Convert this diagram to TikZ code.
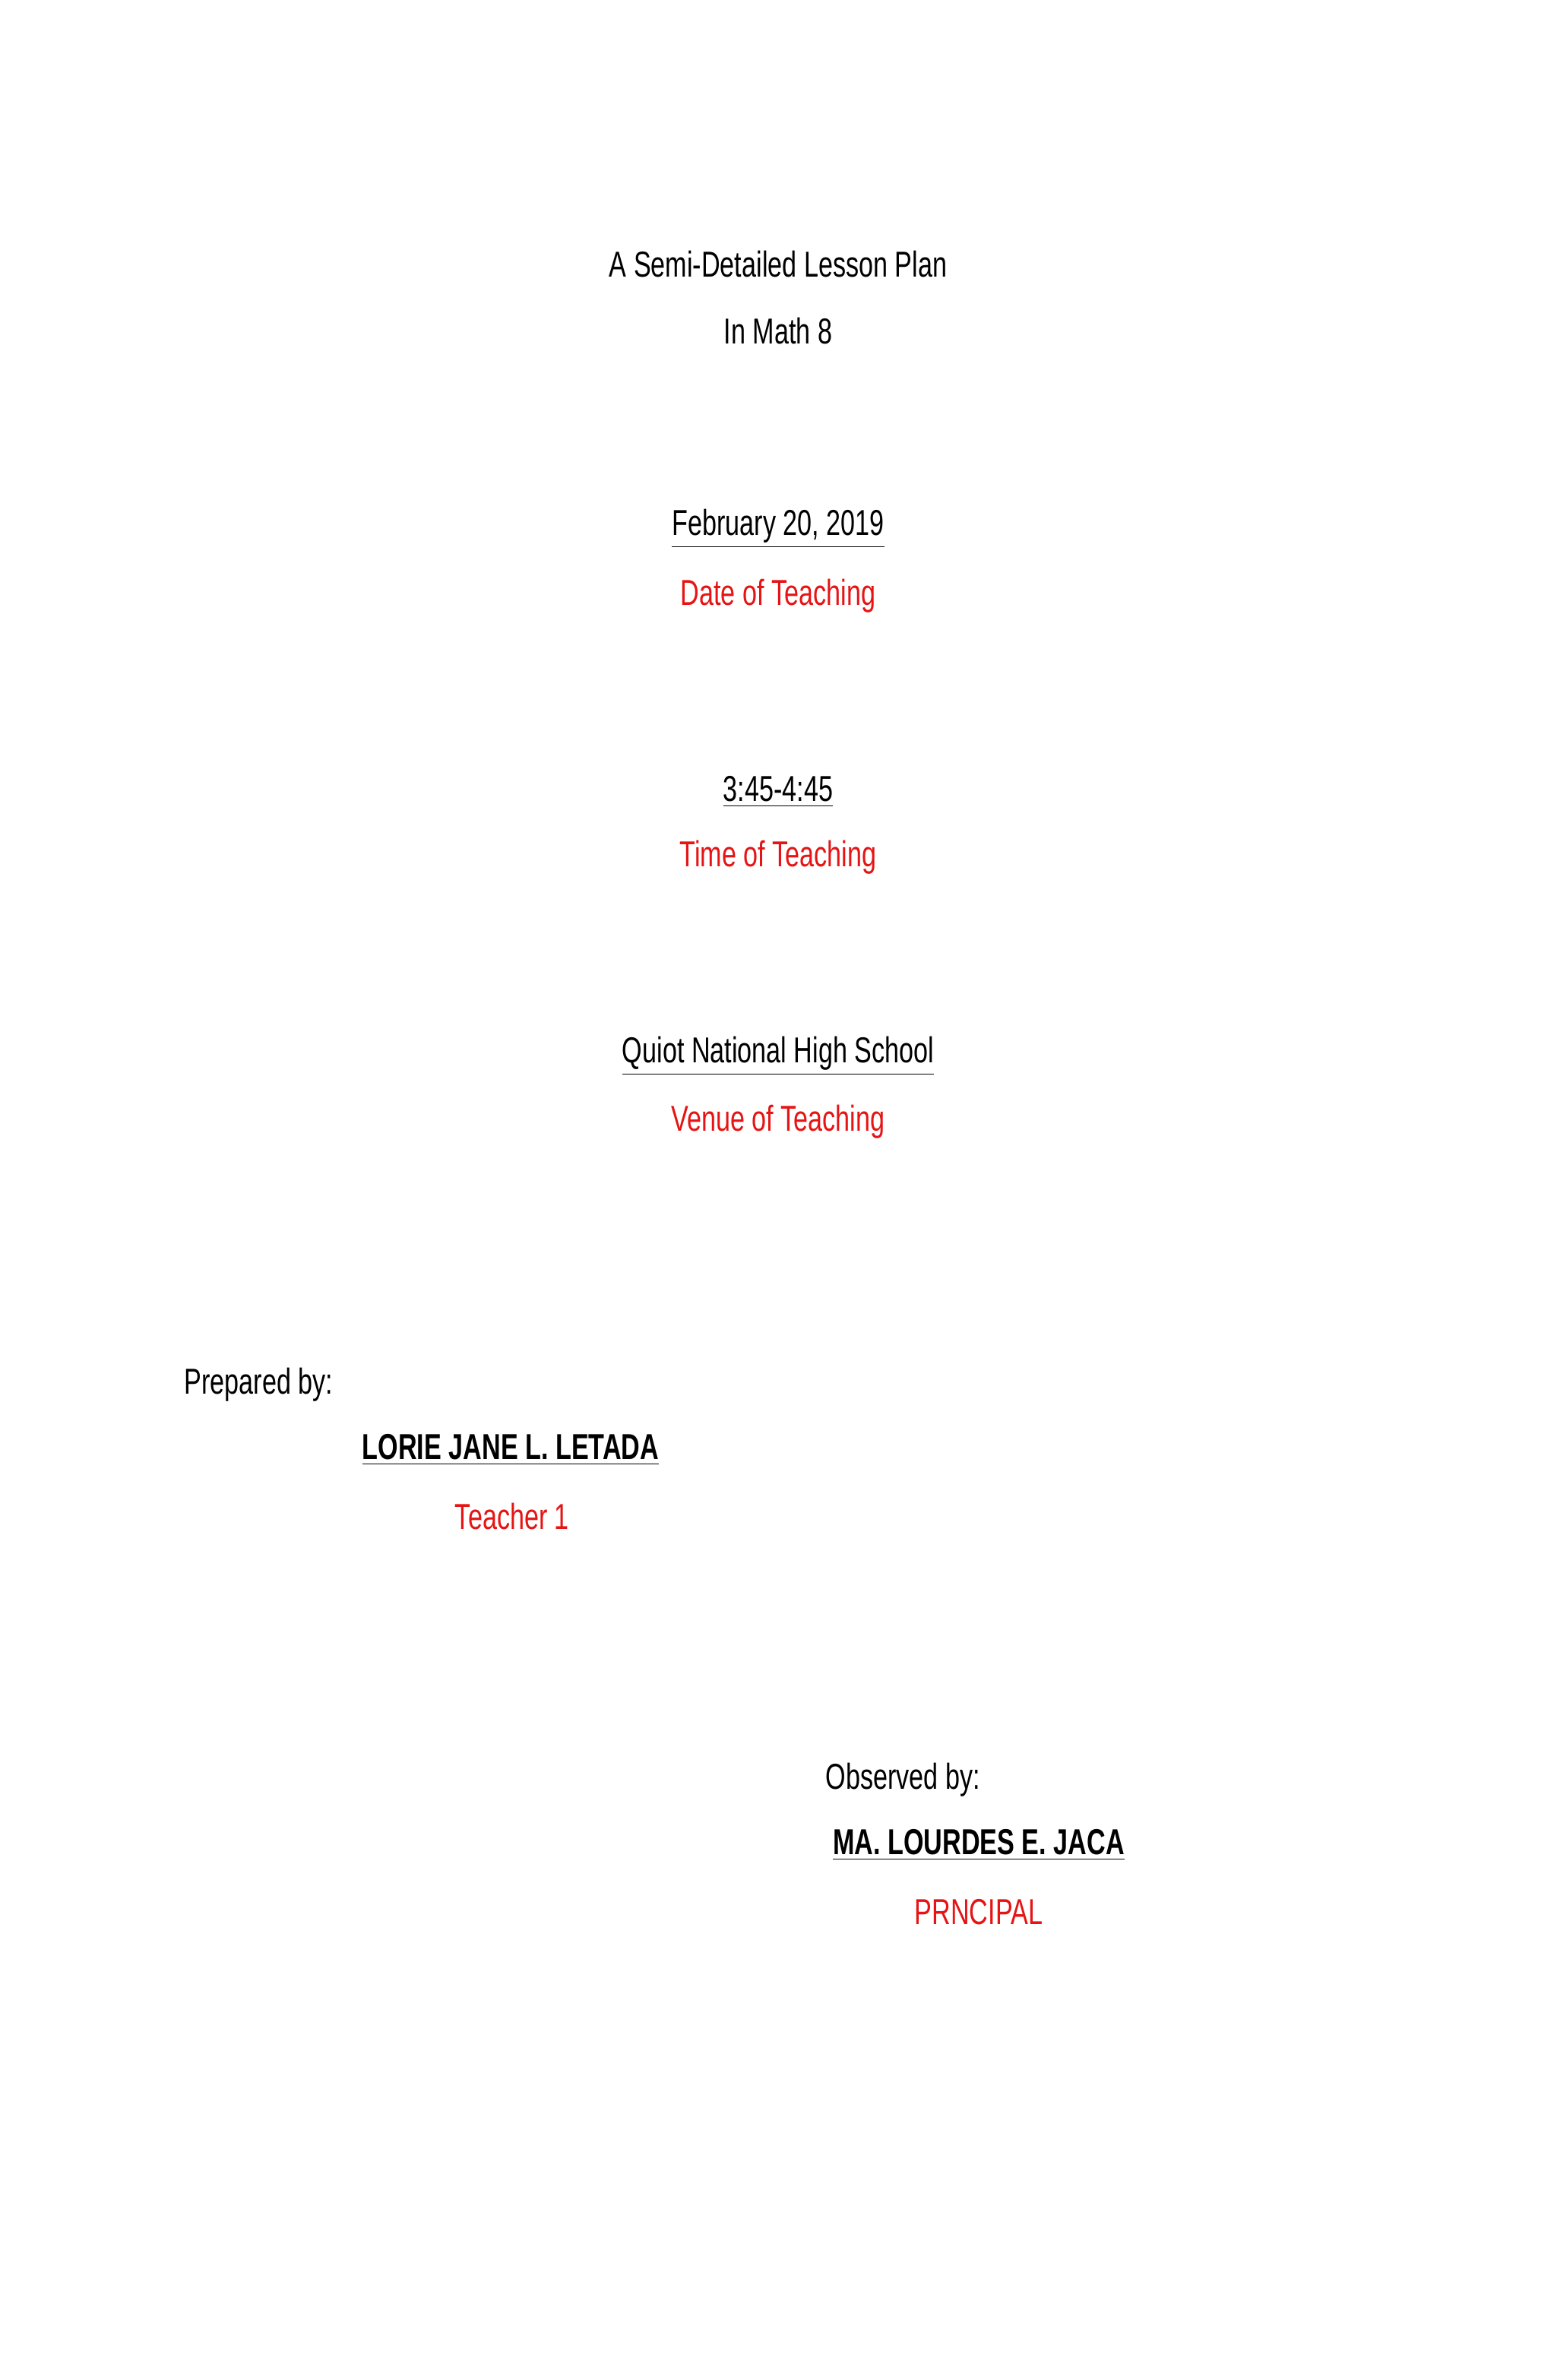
\documentclass[tikz,border=0pt]{standalone}
\usepackage{fontspec}
\setmainfont[FakeStretch=0.72]{Liberation Sans}
\definecolor{rd}{RGB}{230,20,20}
\begin{document}
\begin{tikzpicture}[x=1cm,y=-1cm,
  txt/.style={inner sep=0pt,font=\fontsize{13.5}{15}\selectfont},
  lbl/.style={txt,text=rd}]
\useasboundingbox[fill=white] (0,0) rectangle (20.48,31.32);
\node[txt] (t1) at (10.24,3.48) {A Semi-Detailed Lesson Plan};
\node[txt] (t2) at (10.24,4.36) {In Math 8};
\node[txt] (d) at (10.24,6.96) {\underline{February 20, 2019}};
\node[lbl] (dl) at (10.24,7.84) {Date of Teaching};
\node[txt] (tm) at (10.24,10.42) {\underline{3:45-4:45}};
\node[lbl] (tml) at (10.24,11.28) {Time of Teaching};
\node[txt] (v) at (10.24,13.90) {\underline{Quiot National High School}};
\node[lbl] (vl) at (10.24,14.76) {Venue of Teaching};
\node[txt,anchor=west] (p) at (2.42,18.22) {Prepared by:};
\node[txt] (pn) at (6.72,19.08) {\underline{\textbf{LORIE JANE L. LETADA}}};
\node[lbl] (pr) at (6.74,19.96) {Teacher 1};
\node[txt,anchor=west] (o) at (10.86,23.42) {Observed by:};
\node[txt] (on) at (12.88,24.28) {\underline{\textbf{MA. LOURDES E. JACA}}};
\node[lbl] (or) at (12.88,25.16) {PRNCIPAL};
\end{tikzpicture}
\end{document}
